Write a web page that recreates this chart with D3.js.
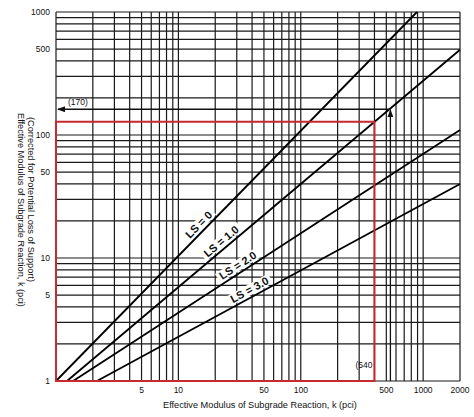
<!DOCTYPE html>
<meta charset="utf-8">
<style>
  body { margin: 0; background: #fff; }
  text { font-family: "Liberation Sans", Arial, Helvetica, sans-serif; fill: #111; }
</style>

<body>
  <div id="chart"></div>
  <script src="https://d3js.org/d3.v7.min.js"></script>
  <script>
    // grid lines (same values on both axes)
    var gridValues = [1, 2, 3, 4, 5, 6, 7, 8, 9, 10,
      20, 30, 40, 50, 60, 70, 80, 90, 100,
      200, 300, 400, 500, 600, 700, 800, 900, 1000];

    var xTicks = [5, 10, 50, 100, 500, 1000, 2000];
    var yTicks = [1, 5, 10, 50, 100, 500, 1000];

    // LS curves: start and end points [k, k corrected]
    var lsNames = ["LS = 0", "LS = 1.0", "LS = 2.0", "LS = 3.0"];
    var lsStart = [[1, 1], [1.23, 1], [1.38, 1], [2.16, 1]];
    var lsEnd = [[890, 1000], [2000, 493], [2000, 110], [2000, 40]];
    // where the label sits along each line (k value)
    var lsLabelK = [16.2, 24.5, 33, 40.7];

    // red example: k = 400 -> about 128
    var redK = 400, redKc = 128;
    // arrow example (540) -> (170)
    var arrowK = 540, arrowKc = 162;

    var margin = {
        top: 12,
        right: 14,
        bottom: 36,
        left: 56
      },
      width = 474 - margin.left - margin.right,
      height = 417 - margin.top - margin.bottom;

    var x = d3.scaleLog()
      .domain([1, 2000])
      .range([0, width]);

    var y = d3.scaleLog()
      .domain([1, 1000])
      .range([height, 0]);

    var svg = d3.select("#chart")
      .append("svg")
      .attr("width", 474)
      .attr("height", 417);

    svg.append("rect")
      .attr("width", 474)
      .attr("height", 417)
      .style("fill", "#fff");

    var defs = svg.append("defs");
    defs.append("marker")
      .attr("id", "arrow")
      .attr("viewBox", "0 0 8 6")
      .attr("refX", 7)
      .attr("refY", 3)
      .attr("markerWidth", 8)
      .attr("markerHeight", 6)
      .attr("markerUnits", "userSpaceOnUse")
      .attr("orient", "auto-start-reverse")
      .append("path")
      .attr("d", "M0,0 L8,3 L0,6 Z")
      .style("fill", "#111");

    var g = svg.append("g")
      .attr("transform", "translate(" + margin.left + "," + margin.top + ")");

    // vertical grid
    g.selectAll(".vgrid")
      .data(gridValues.concat([2000]))
      .enter().append("line")
      .attr("class", "vgrid")
      .attr("x1", function(d) { return x(d); })
      .attr("x2", function(d) { return x(d); })
      .attr("y1", y(1))
      .attr("y2", y(1000))
      .style("stroke", "#1a1a1a")
      .style("stroke-width", 1.2);

    // horizontal grid
    g.selectAll(".hgrid")
      .data(gridValues)
      .enter().append("line")
      .attr("class", "hgrid")
      .attr("x1", x(1))
      .attr("x2", x(2000))
      .attr("y1", function(d) { return y(d); })
      .attr("y2", function(d) { return y(d); })
      .style("stroke", "#1a1a1a")
      .style("stroke-width", 1.2);

    // LS lines
    var lsData = lsNames.map(function(name, i) {
      return { name: name, p0: lsStart[i], p1: lsEnd[i], at: lsLabelK[i] };
    });

    g.selectAll(".ls")
      .data(lsData)
      .enter().append("line")
      .attr("class", "ls")
      .attr("x1", function(d) { return x(d.p0[0]); })
      .attr("y1", function(d) { return y(d.p0[1]); })
      .attr("x2", function(d) { return x(d.p1[0]); })
      .attr("y2", function(d) { return y(d.p1[1]); })
      .style("stroke", "#000")
      .style("stroke-width", 1.8);

    // labels along the lines, with white background that breaks the grid
    lsData.forEach(function(d) {
      var lx0 = Math.log10(d.p0[0]), ly0 = Math.log10(d.p0[1]);
      var lx1 = Math.log10(d.p1[0]), ly1 = Math.log10(d.p1[1]);
      var lx = Math.log10(d.at);
      var ky = Math.pow(10, ly0 + (lx - lx0) * (ly1 - ly0) / (lx1 - lx0));
      var a = Math.atan2(y(d.p1[1]) - y(d.p0[1]), x(d.p1[0]) - x(d.p0[0]));
      var off = 7.5;
      var cx = x(d.at) + Math.sin(a) * off,
        cy = y(ky) - Math.cos(a) * off;

      var lg = g.append("g")
        .attr("transform", "translate(" + cx + "," + cy + ") rotate(" + (a * 180 / Math.PI) + ")");
      var bg = lg.append("rect").style("fill", "#fff");
      var t = lg.append("text")
        .attr("text-anchor", "middle")
        .attr("dy", "0.36em")
        .style("font-size", "11px")
        .style("font-weight", "bold")
        .text(d.name);
      var bb = t.node().getBBox();
      bg.attr("x", bb.x - 3)
        .attr("y", bb.y + 1)
        .attr("width", bb.width + 6)
        .attr("height", bb.height - 1.5);
    });

    // red rectangle example
    g.append("path")
      .attr("d", "M" + x(1) + "," + y(redKc) +
        "H" + x(redK) + "V" + y(1) + "H" + x(1) + "Z")
      .style("fill", "none")
      .style("stroke", "#c62a2f")
      .style("stroke-width", 2);

    // (540) -> (170) arrows
    g.append("line")
      .attr("x1", x(arrowK))
      .attr("x2", x(arrowK))
      .attr("y1", y(1))
      .attr("y2", y(arrowKc) + 1)
      .style("stroke", "#111")
      .style("stroke-width", 1.3)
      .attr("marker-end", "url(#arrow)");

    g.append("line")
      .attr("x1", x(1) + 2)
      .attr("x2", x(arrowK))
      .attr("y1", y(arrowKc))
      .attr("y2", y(arrowKc))
      .style("stroke", "#111")
      .style("stroke-width", 1.3)
      .attr("marker-start", "url(#arrow)");

    g.append("text")
      .attr("x", x(1) + 12)
      .attr("y", y(arrowKc) - 4)
      .style("font-size", "8.5px")
      .text("(170)");

    g.append("text")
      .attr("x", x(redK) - 2)
      .attr("y", y(1.27))
      .attr("text-anchor", "end")
      .style("font-size", "8.5px")
      .text("(540");

    // tick labels
    g.selectAll(".xlab")
      .data(xTicks)
      .enter().append("text")
      .attr("class", "xlab")
      .attr("x", function(d) { return x(d); })
      .attr("y", height + 12)
      .attr("text-anchor", "middle")
      .style("font-size", "8.5px")
      .text(function(d) { return d; });

    g.selectAll(".ylab")
      .data(yTicks)
      .enter().append("text")
      .attr("class", "ylab")
      .attr("x", -6)
      .attr("y", function(d) { return y(d); })
      .attr("dy", "0.35em")
      .attr("text-anchor", "end")
      .style("font-size", "8.5px")
      .text(function(d) { return d; });

    // axis titles
    svg.append("text")
      .attr("x", 163)
      .attr("y", 408)
      .style("font-size", "9.2px")
      .text("Effective Modulus of Subgrade Reaction, k (pci)");

    svg.append("text")
      .attr("transform", "translate(18,113) rotate(90)")
      .style("font-size", "9.2px")
      .text("Effective Modulus of Subgrade Reaction, k (pci)");

    svg.append("text")
      .attr("transform", "translate(28,117) rotate(90)")
      .style("font-size", "9.2px")
      .text("(Corrected for Potential Loss of Support)");
  </script>
</body>
